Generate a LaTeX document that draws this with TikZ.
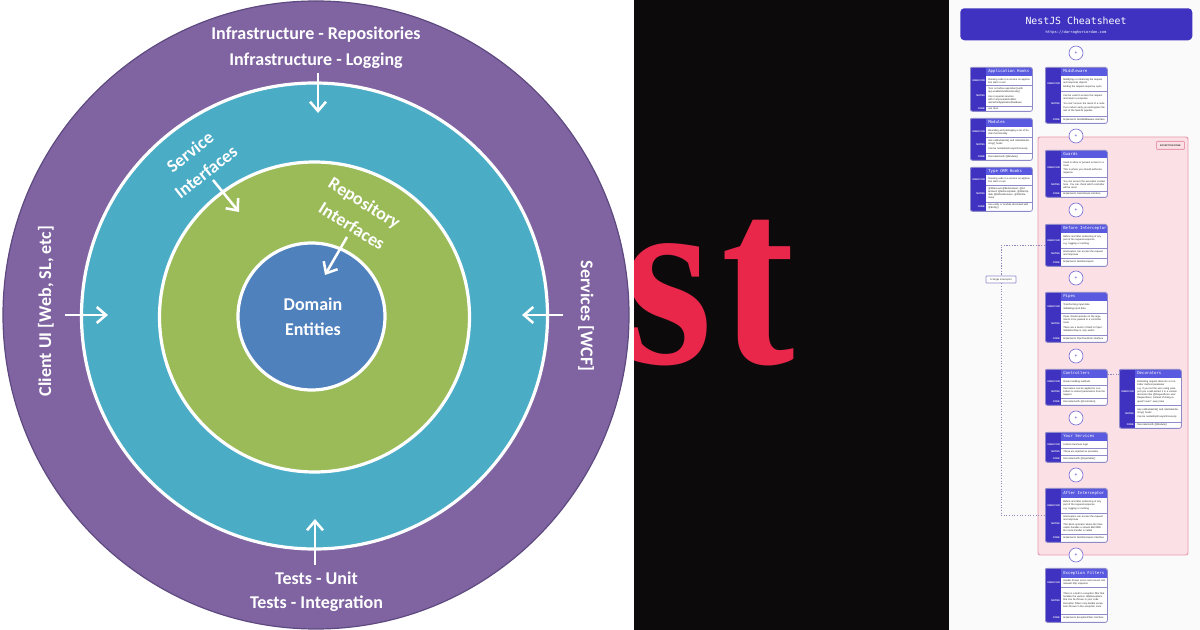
\documentclass[tikz,border=0pt]{standalone}
\usepackage{fontspec}
\usetikzlibrary{arrows.meta,calc}
\setmainfont{Liberation Sans}
\newfontfamily\ringfont{Carlito}
\newfontfamily\monofnt{DejaVu Sans Mono}
\newfontfamily\redfont{Liberation Serif}
\definecolor{ringpurple}{HTML}{8064A2}
\definecolor{ringedge}{HTML}{5E4A80}
\definecolor{ringcyan}{HTML}{4BACC6}
\definecolor{ringgreen}{HTML}{9BBB59}
\definecolor{ringblue}{HTML}{4F81BD}
\definecolor{bandblack}{HTML}{0D0A0B}
\definecolor{bandred}{HTML}{E8274B}
\definecolor{panelbg}{HTML}{FAFAFA}
\definecolor{indigo}{HTML}{3F32C0}
\definecolor{headblue}{HTML}{5A5AE0}
\definecolor{cardedge}{HTML}{8F8AC8}
\definecolor{zonefill}{HTML}{FBE0E6}
\definecolor{zoneedge}{HTML}{E79AB0}
\definecolor{dotgrey}{HTML}{8E88C0}
\newcommand{\pxs}[2]{\fontsize{#1}{#2}\selectfont}
\tikzset{
  x=0.75pt,y=-0.75pt,
  ring/.style={draw=white,line width=2.4pt},
  ringtext/.style={text=white,font=\ringfont\bfseries\pxs{13.5}{16},inner sep=0pt},
  ringarrow/.style={draw=white,line width=1.9pt,-{Straight Barb[length=7pt,width=12pt,line width=1.9pt]}},
  cardbase/.style={anchor=north west,inner sep=0pt,rounded corners=1.6pt},
  cardhead/.style={anchor=west,text=white,font=\monofnt\pxs{3}{4},inner sep=0pt},
  cardtag/.style={anchor=east,text=white,font=\bfseries\pxs{1.8}{2.3},inner sep=0pt},
  cardrow/.style={anchor=west,text=black!85,font=\pxs{1.85}{2.3},align=left,text width=31.5pt,inner sep=0pt},
  plusmark/.style={circle,draw=indigo!70,fill=white,line width=0.5pt,minimum size=10.5pt,inner sep=0pt,font=\pxs{3.6}{4},text=indigo},
  dotline/.style={draw=dotgrey,line width=0.7pt,dash pattern=on 0.9pt off 1.1pt},
}
% name, x, top, headbottom, usedbottom, bottom, notesbottom, title, used, notes, code
\newcommand{\card}[9]{%
  \def\cn{#1}\def\cx{#2}\def\ct{#3}\def\ch{#4}\def\cu{#5}\def\cb{#6}\def\cnb{#7}\def\ctitle{#8}\def\cused{#9}\cardrest}
\newcommand{\cardrest}[2]{%
  \pgfmathsetmacro{\cxl}{\cx+16}\pgfmathsetmacro{\cxr}{\cx+62}%
  \begin{scope}
    \clip[rounded corners=1.6pt] (\cx,\ct) rectangle (\cxr,\cb);
    \fill[white] (\cx,\ct) rectangle (\cxr,\cb);
    \fill[indigo] (\cx,\ct) rectangle (\cxl,\cb);
    \fill[headblue] (\cxl,\ct) rectangle (\cxr,\ch);
    \draw[cardedge,line width=0.5pt] (\cxl,\cu) -- (\cxr,\cu) (\cxl,\cnb) -- (\cxr,\cnb);
  \end{scope}
  \node[cardbase,draw=cardedge,line width=0.6pt,minimum width=46.5pt,minimum height={(\cb-\ct)*0.75pt}] (\cn) at (\cx,\ct) {};
  \node[cardhead] at (\cxl+2,{(\ct+\ch)/2}) {\ctitle};
  \node[cardtag] at (\cxl-1,{(\ch+\cu)/2}) {USED FOR};
  \node[cardtag] at (\cxl-1,{(\cu+\cnb)/2}) {NOTES};
  \node[cardtag] at (\cxl-1,{(\cnb+\cb)/2}) {CODE};
  \node[cardrow] at (\cxl+2,{(\ch+\cu)/2}) {\cused};
  \node[cardrow] at (\cxl+2,{(\cu+\cnb)/2}) {#1};
  \node[cardrow] at (\cxl+2,{(\cnb+\cb)/2}) {#2};
}
\begin{document}
\begin{tikzpicture}
\useasboundingbox (0,0) rectangle (1200,630);
\fill[white] (0,0) rectangle (634,630);
\fill[bandblack] (634,0) rectangle (949,630);
\fill[panelbg] (949,0) rectangle (1200,630);
% red letters
\begin{scope}
  \clip (634,0) rectangle (949,630);
  \node[text=bandred,font=\redfont\bfseries\pxs{172}{172},anchor=base east,inner sep=0pt,yscale=1.11,transform shape] (reds) at (713,364) {s};
  \node[text=bandred,font=\redfont\bfseries\pxs{172}{172},anchor=base west,inner sep=0pt,xscale=0.96,yscale=1.11,transform shape] (redt) at (721,364) {t};
\end{scope}
% rings
\filldraw[fill=ringpurple,draw=ringedge,line width=0.9pt] (316,315) ellipse [x radius=313,y radius=314];
\filldraw[ring,fill=ringcyan] (314.5,316) ellipse [x radius=233,y radius=233];
\filldraw[ring,fill=ringgreen] (314.5,317) ellipse [x radius=155,y radius=155];
\filldraw[ring,fill=ringblue] (311.5,316.5) ellipse [x radius=73.5,y radius=73.5];
% ring labels
\node[ringtext] (infrarepo) at (316,35) {Infrastructure - Repositories};
\node[ringtext] (infralog) at (316,61) {Infrastructure - Logging};
\node[ringtext] (testunit) at (316.5,578) {Tests - Unit};
\node[ringtext] (testint) at (316.5,604) {Tests - Integration};
\node[ringtext,rotate=90] (clientui) at (46,311) {Client UI [Web, SL, etc]};
\node[ringtext,rotate=-90] (services) at (586,316) {Services [WCF]};
\node[ringtext,rotate=38] (svc1) at (190,152) {Service};
\node[ringtext,rotate=38] (svc2) at (206,172) {Interfaces};
\node[ringtext,rotate=-32] (repo1) at (364,204) {Repository};
\node[ringtext,rotate=-32] (repo2) at (352,226) {Interfaces};
\node[ringtext] (dom1) at (313,304) {Domain};
\node[ringtext] (dom2) at (313,329) {Entities};
% ring arrows
\coordinate (a1) at (318,73); \coordinate (a2) at (318,113);
\coordinate (b1) at (213,180); \coordinate (b2) at (239,212);
\coordinate (c1) at (347,237); \coordinate (c2) at (325,275);
\coordinate (d1) at (65,315); \coordinate (d2) at (108,315);
\coordinate (e1) at (563,315); \coordinate (e2) at (522,315);
\coordinate (f1) at (315,565); \coordinate (f2) at (315,519);
\draw[ringarrow] (a1) -- (a2);
\draw[ringarrow] (b1) -- (b2);
\draw[ringarrow] (c1) -- (c2);
\draw[ringarrow] (d1) -- (d2);
\draw[ringarrow] (e1) -- (e2);
\draw[ringarrow] (f1) -- (f2);
% title panel
\node[anchor=north west,fill=indigo,rounded corners=3pt,minimum width=174pt,minimum height=24pt,inner sep=0pt] (titlebox) at (960,8) {};
\node[text=white,font=\monofnt\pxs{7.4}{9},inner sep=0pt] (titletext) at (1076,21) {NestJS Cheatsheet};
\node[text=white,font=\monofnt\pxs{2.8}{4},inner sep=0pt] (titleurl) at (1076,32) {https://darraghoriordan.com};
% exception zone
\filldraw[fill=zonefill,draw=zoneedge,line width=0.7pt,rounded corners=1.6pt] (1038,137) rectangle (1188,555);
\node[anchor=north west,draw=zoneedge,fill=zonefill,line width=0.6pt,minimum width=21pt,minimum height=6pt,inner sep=0pt,font=\bfseries\pxs{1.75}{2.3},text=black!80,rounded corners=0.6pt] (zonelabel) at (1156,141) {EXCEPTION ZONE};
% cards
\card{apphooks}{970}{67}{76}{85.5}{111}{106}{Application Hooks}{Running code in a service on application start or exit}
 {Turn on before app.listen() with app.enableShutdownHooks()\\[1.2pt] Use in special services with ComponentsOnModuleInit/OnApplicationShutdown}{see docs}
\card{middleware}{1045}{67}{76}{91}{123}{116}{Middleware}{Modifying or enhancing the request and response objects\\[1pt] Ending the request-response cycle}
 {Can be used to access the request and return a response\\[1pt] You can't access the result of a route\\[1pt] If you return early you will bypass the rest of the NestJS pipeline}{Implements NestMiddleware interface}
\card{modules}{970}{118}{127}{137}{160}{153}{Modules}{Bounding and packaging a set of domain functionality}
 {Has onModuleInit() and onModuleDestroy() hooks\\[1pt] Can be nested/split asynchronously}{Decorated with @Module()}
\card{typeorm}{970}{167}{175}{185}{211}{202}{Type ORM Hooks}{Running code in a service on application start or exit}
 {@AfterLoad @BeforeInsert, @AfterInsert @BeforeUpdate, @AfterUpdate @BeforeRemove, @AfterRemove}{Use entity or module decorated with @Entity()}
\card{guards}{1045}{150}{158}{177.5}{197}{191}{Guards}{Used to allow or prevent access to a route\\[1pt] This is where you should authorize requests}
 {You can access the execution context here. You can check which controller will be used}{Implements CanActivate interface}
\card{beforeint}{1045}{224}{233}{248}{266}{258.5}{Before Interceptor}{Before and after enhancing of any part of the request-response\\[1pt] e.g. logging or caching}
 {Interceptors can access the request and response}{Implements NestInterceptor}
\card{pipes}{1045}{292}{301}{313}{342}{335}{Pipes}{Transforming input data\\[1pt] Validating input data}
 {Pipes should operate on the arguments to be passed to a controller route\\[1pt] There are a bunch of built in Pipes: ValidationPipe is very useful}{Implements PipeTransform interface}
\card{controllers}{1045}{369}{378}{385}{405}{398}{Controllers}{Route handling methods}
 {Decorators can be applied to controllers to extract parameters from the request}{Decorated with @Controller()}
\card{decorators}{1119}{369}{378}{405}{428}{422}{Decorators}{Extracting request data into a Controller method parameter\\[1pt] e.g. if you set the user using passport you could extract it in a custom decorator like @RequestUser user: RequestUser, instead of doing request?.user? every time}
 {Has onModuleInit() and onModuleDestroy() hooks\\[1pt] Can be nested/split asynchronously}{Decorated with @Module()}
\card{services}{1045}{432}{441}{448}{462}{455}{Your Services}{Custom business logic}
 {These are injected as providers}{Decorated with @Injectable()}
\card{afterint}{1045}{488}{498}{513}{542}{534}{After Interceptor}{Before and after enhancing of any part of the request-response\\[1pt] e.g. logging or caching}
 {Interceptors can access the request and response\\[1pt] This block operates where the Interceptor handles a stream BEFORE the route handler is called}{Implements NestInterceptor interface}
\card{filters}{1045}{568}{578}{587}{622}{614}{Exception Filters}{Handle thrown errors and convert into relevant http response}
 {There is a built in exception filter that handles the various Http\-Exceptions that can be thrown in your code\\[1pt] Exception Filters only handle exceptions thrown in the exception zone}{Implements ExceptionFilter interface}
% plus marks
\node[plusmark] (p1) at (1076,53) {+};
\node[plusmark] (p2) at (1076,136) {+};
\node[plusmark] (p3) at (1076,210) {+};
\node[plusmark] (p4) at (1076,278) {+};
\node[plusmark] (p5) at (1076,356) {+};
\node[plusmark] (p6) at (1076,418) {+};
\node[plusmark] (p7) at (1076,475) {+};
\node[plusmark] (p8) at (1076,555) {+};
% interceptor connector
\node[draw=cardedge,fill=white,line width=0.5pt,minimum width=22.5pt,minimum height=5.2pt,inner sep=0pt,font=\pxs{1.85}{2.3},text=black!80,rounded corners=0.5pt] (single) at (1001,279.5) {A Single Interceptor};
\draw[dotline] (beforeint.west) -| (single.north);
\draw[dotline] (single.south) |- (afterint.west);
\coordinate (dc) at (1113,374);
\draw[dotline] (controllers.east |- dc) -- (decorators.west |- dc);
\end{tikzpicture}
\end{document}
